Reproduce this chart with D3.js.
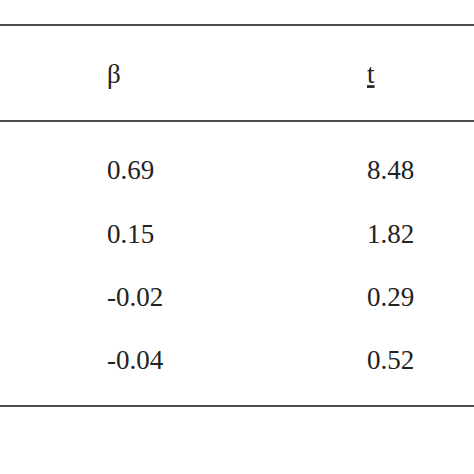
<!DOCTYPE html>
<html><head><meta charset="utf-8">
<script src="https://cdn.jsdelivr.net/npm/d3@7"></script>
<style>body{margin:0;background:#fff}</style>
</head><body>
<svg id="chart" width="474" height="474"></svg>
<script>
// table values
var headers = ["β","t"]
var betas = ["0.69","0.15","-0.02","-0.04"]
var tvals = ["8.48","1.82","0.29","0.52"]

var w = 474, h = 474
var svg = d3.select("#chart")
var font = "'Liberation Serif', 'DejaVu Serif', serif"

var x = d3.scaleOrdinal().domain([0,1]).range([107,367])
var y = d3.scalePoint().domain(d3.range(betas.length)).range([173,363])

// rules
var rules = [25,121,406]
svg.selectAll(".rule").data(rules).enter().append("line")
    .attr("x1",0).attr("x2",w)
    .attr("y1",function(d){return d}).attr("y2",function(d){return d})
    .attr("stroke","#111").attr("stroke-width",1.5)

// header
svg.selectAll(".head").data(headers).enter().append("text")
    .attr("x",function(d,i){return x(i)})
    .attr("y",77).attr("dominant-baseline","middle")
    .attr("font-family",font).attr("font-size",27).attr("fill","#222")
    .attr("text-decoration",function(d,i){return i==1?"underline":null})
    .text(function(d){return d})

var rows = betas.map(function(b,i){return [b,tvals[i]]})
rows.forEach(function(r,ri){
    svg.selectAll(".cell"+ri).data(r).enter().append("text")
        .attr("x",function(d,i){return x(i)})
        .attr("y",y(ri)).attr("dominant-baseline","middle")
        .attr("font-family",font).attr("font-size",27).attr("fill","#222")
        .text(function(d){return d})
})
</script>
</body></html>
